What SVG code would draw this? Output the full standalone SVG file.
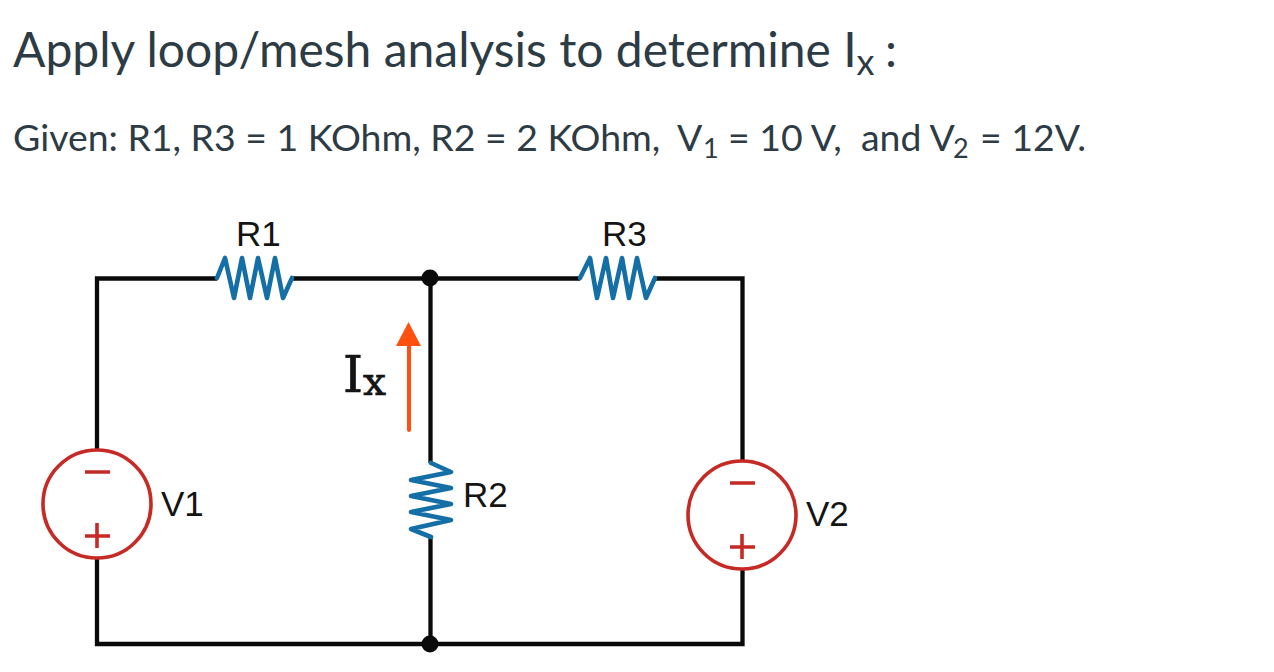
<svg xmlns="http://www.w3.org/2000/svg" width="1274" height="672" viewBox="0 0 1274 672">
<defs><style>
.h{font-family:Lato,"Noto Sans",sans-serif;fill:#2d3b45}
.g{font-size:37.400px}
.b{font-size:27px}
.l{font-family:"Liberation Sans",Arial,sans-serif;font-size:35px;fill:#141414}
.w{fill:none;stroke:#0a0a0a;stroke-width:4.300;stroke-linejoin:miter}
.r{fill:none;stroke:#146fa6;stroke-width:4.600;stroke-linejoin:round;stroke-linecap:round}
.s{fill:none;stroke:#c62a25;stroke-width:3.600}
.n{fill:#0a0a0a}
.i{font-family:"DejaVu Serif",serif;fill:#141414;stroke:#141414;stroke-width:.7}
</style></defs>
<rect width="1274" height="672" fill="#fff"/>
<g id="heading">
<text class="h" x="13" y="67" font-size="48">Apply loop/mesh analysis to determine I<tspan font-size="36" dy="8">x</tspan></text>
<text class="h" x="885" y="67" font-size="48">:</text>
<text class="h g" x="13" y="151">Given: R1, R3 = 1 KOhm, R2 = 2 KOhm,</text>
<text class="h g" x="677" y="151">V</text><text class="h b" x="703" y="158">1</text>
<text class="h g" x="728" y="151">= 10 V,</text>
<text class="h g" x="861" y="151">and V</text><text class="h b" x="953" y="158">2</text>
<text class="h g" x="980" y="151">= 12V.</text>
</g>
<g id="connectors">
<path class="w" d="M97 450V278.500H217"/>
<path class="w" d="M292 278.500H580"/>
<path class="w" d="M655 278.500H742.500V460"/>
<path class="w" d="M430.500 278V463"/>
<path class="w" d="M430.500 537V644"/>
<path class="w" d="M97 558V644H742.500V570"/>
</g>
<g id="R1"><path class="r" d="M217 278L225 258L234 298L242 258L250 298L258 258L267 298L275 258L283 298L292 278"/><text class="l" x="236" y="246">R1</text></g>
<g id="R3"><path class="r" d="M580 278L590 258L597 298L606 258L613 298L622 258L629 298L637 258L646 298L655 278"/><text class="l" x="602" y="246">R3</text></g>
<g id="R2"><path class="r" d="M431 463L451 472L411 480L451 488L411 496L451 504L411 512L451 520L411 529L431 537"/><text class="l" x="463" y="507">R2</text></g>
<g id="node-top"><circle class="n" cx="430" cy="278" r="8.500"/></g>
<g id="node-bottom"><circle class="n" cx="430" cy="644" r="8.500"/></g>
<g id="V1"><circle class="s" cx="97" cy="504" r="54"/><path class="s" d="M85 472H110M85 536H110M97 523V548"/><text class="l" x="161" y="516">V1</text></g>
<g id="V2"><circle class="s" cx="742" cy="515" r="54"/><path class="s" d="M730 483H755M730 547H755M742 534V559"/><text class="l" x="806" y="526">V2</text></g>
<g id="Ix">
<path d="M409 430V343" fill="none" stroke="#ff5010" stroke-width="4" stroke-linecap="round"/>
<path d="M408.500 322L421 346H396Z" fill="#ff5010"/>
<text class="i" x="343" y="392" font-size="50" textLength="20" lengthAdjust="spacingAndGlyphs">I</text>
<text class="i" x="363" y="395" font-size="40" textLength="23" lengthAdjust="spacingAndGlyphs">x</text>
</g>
</svg>
